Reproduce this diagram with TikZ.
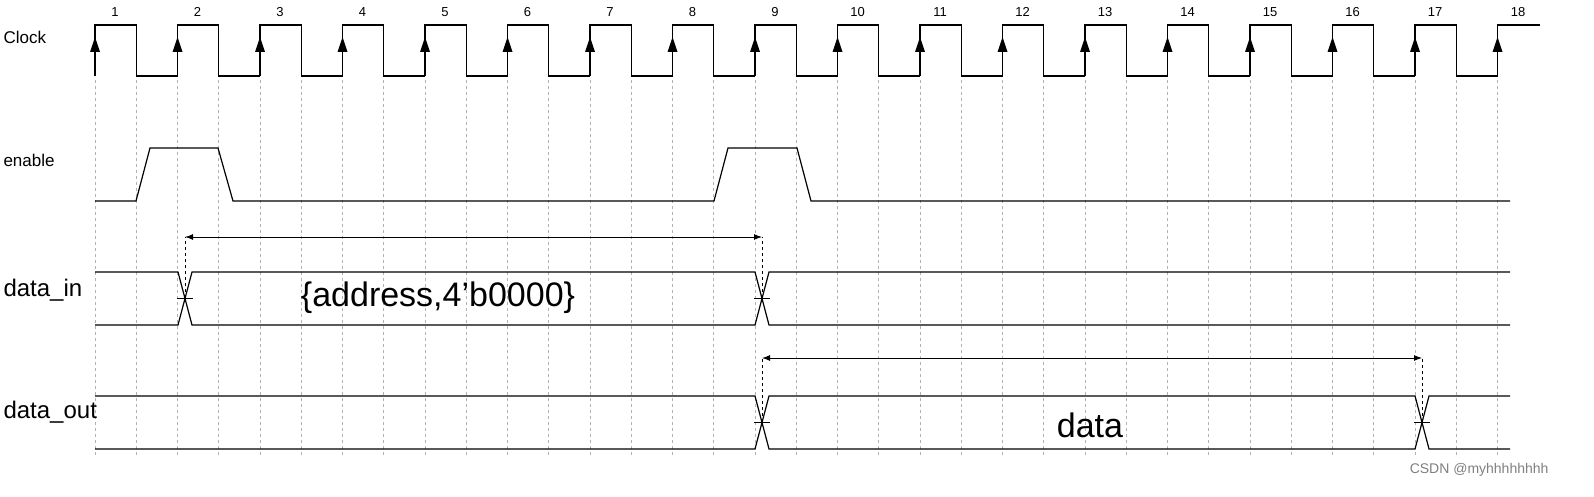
\documentclass[tikz,border=0pt]{standalone}
\usepackage{fontspec}
\setmainfont{Liberation Sans}
\usetikzlibrary{arrows.meta}
\begin{document}
\begin{tikzpicture}[x=1pt,y=-1pt,
  sig/.style={line width=1.2pt,black},
  grid/.style={gray!60,dashed,line width=0.6pt},
  small/.style={font=\fontsize{17}{19}\selectfont,anchor=west},
  big/.style={font=\fontsize{24}{26}\selectfont,anchor=west},
  dim/.style={line width=1pt,{Latex[length=8pt,width=6pt]}-{Latex[length=8pt,width=6pt]}},
  guide/.style={dashed,line width=0.8pt}]
\useasboundingbox (0,0) rectangle (1594,497);
\fill[white] (0,0) rectangle (1594,497);
% grid
\foreach \i in {0,...,34} {
  \draw[grid] ({95+41.25*\i},80) -- ({95+41.25*\i},455);
}
% clock
\foreach \i in {0,...,16} {
  \pgfmathsetmacro\xa{95+82.5*\i}
  \draw[sig] (\xa,76) -- (\xa,25) -- ({\xa+41.25},25) -- ({\xa+41.25},76) -- ({\xa+82.5},76);
  \fill ({\xa-5},52) -- ({\xa+5},52) -- (\xa,37) -- cycle;
  \node[font=\fontsize{13}{15}\selectfont] at ({\xa+20},12) {\the\numexpr\i+1\relax};
}
\draw[sig] (1497.5,76) -- (1497.5,25) -- (1540,25);
\fill (1492.5,52) -- (1502.5,52) -- (1497.5,37) -- cycle;
\node[font=\fontsize{13}{15}\selectfont] at (1518,12) {18};
% enable
\draw[sig] (95,201) -- (136,201) -- (150,148) -- (218,148) -- (233,201) -- (714,201) -- (728,148) -- (797,148) -- (811,201) -- (1510,201);
% data_in
\draw[sig] (95,272) -- (178,272) -- (192,325) -- (755,325) -- (769,272) -- (1510,272);
\draw[sig] (95,325) -- (178,325) -- (192,272) -- (755,272) -- (769,325) -- (1510,325);
\draw[line width=0.8pt] (177,298) -- (193,298) (754,298) -- (770,298);
\coordinate (a1) at (185,237); \coordinate (a2) at (762,237);
\coordinate (c1) at (185,298); \coordinate (c2) at (762,298);
\draw[guide] (c1) -- (a1); \draw[guide] (c2) -- (a2);
\draw[dim] (a1) -- (a2);
% data_out
\draw[sig] (95,396) -- (755,396) -- (769,449) -- (1415,449) -- (1429,396) -- (1510,396);
\draw[sig] (95,449) -- (755,449) -- (769,396) -- (1415,396) -- (1429,449) -- (1510,449);
\draw[line width=0.8pt] (754,422) -- (770,422) (1414,422) -- (1430,422);
\coordinate (b1) at (762,358); \coordinate (b2) at (1422,358);
\coordinate (d1) at (762,422); \coordinate (d2) at (1422,422);
\draw[guide] (d1) -- (b1); \draw[guide] (d2) -- (b2);
\draw[dim] (b1) -- (b2);
% labels
\node[small] (lclk) at (0,37) {Clock};
\node[small] (len) at (0,160) {enable};
\node[big] (ldin) at (0,290) {data\_in};
\node[big] (ldout) at (0,412) {data\_out};
\node[font=\fontsize{34}{38}\selectfont] (t1) at (438,298) {\{address,4'b0000\}};
\node[font=\fontsize{34}{38}\selectfont] (t2) at (1090,425) {data};
\node[font=\fontsize{14}{16}\selectfont,text=gray,anchor=east] (wm) at (1552,470) {CSDN @myhhhhhhhh};
\end{tikzpicture}
\end{document}
